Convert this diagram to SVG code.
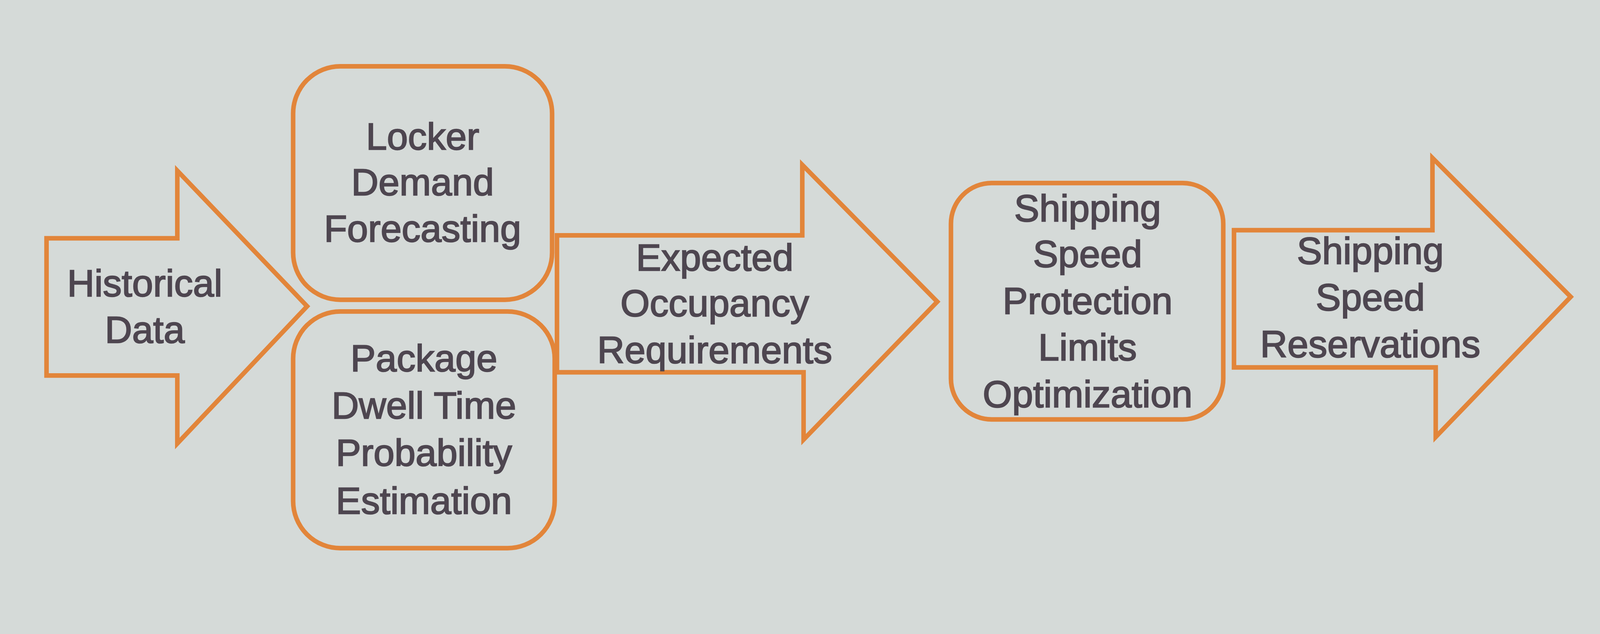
<svg xmlns="http://www.w3.org/2000/svg" width="4918" height="1624" viewBox="0 0 4918 1624" preserveAspectRatio="xMidYMid meet">
  <style>
    svg:root { width: 100vw; height: 100vh; display: block; background: #d5dad8; }
    .shape { fill: none; stroke: #e2853a; stroke-width: 14; stroke-linejoin: miter; }
    .label { font-family: "Liberation Sans", Arial, sans-serif; font-size: 116px; fill: #4e4650; stroke: #4e4650; stroke-width: 3; text-anchor: middle; }
  </style>
  <rect x="-2000" y="-2000" width="8918" height="5624" fill="#d5dad8"/>

  <g id="connectors"></g>

  <g id="historical-data">
    <polygon class="shape" points="143,570 545,570 545,362 944,779 545,1201 545,992 143,992"/>
    <text class="label" x="445" y="748">Historical</text>
    <text class="label" x="445" y="891">Data</text>
  </g>

  <g id="locker-demand-forecasting">
    <rect class="shape" x="901" y="41" width="796" height="718" rx="145" ry="145"/>
    <text class="label" x="1299" y="297">Locker</text>
    <text class="label" x="1299" y="438">Demand</text>
    <text class="label" x="1299" y="580">Forecasting</text>
  </g>

  <g id="package-dwell-time">
    <rect class="shape" x="901" y="795" width="804" height="728" rx="145" ry="145"/>
    <text class="label" x="1303" y="979">Package</text>
    <text class="label" x="1303" y="1124">Dwell Time</text>
    <text class="label" x="1303" y="1269">Probability</text>
    <text class="label" x="1303" y="1417">Estimation</text>
  </g>

  <g id="expected-occupancy">
    <polygon class="shape" points="1712,561 2466,561 2466,344 2881,765 2470,1189 2470,982 1712,982"/>
    <text class="label" x="2197" y="669">Expected</text>
    <text class="label" x="2197" y="810">Occupancy</text>
    <text class="label" x="2197" y="954">Requirements</text>
  </g>

  <g id="protection-limits-optimization">
    <rect class="shape" x="2923" y="400" width="837" height="727" rx="125" ry="125"/>
    <text class="label" x="3343" y="518">Shipping</text>
    <text class="label" x="3343" y="658">Speed</text>
    <text class="label" x="3343" y="802">Protection</text>
    <text class="label" x="3343" y="945">Limits</text>
    <text class="label" x="3343" y="1089">Optimization</text>
  </g>

  <g id="shipping-speed-reservations">
    <polygon class="shape" points="3793,545 4403,545 4403,323 4828,750 4413,1181 4413,967 3793,967"/>
    <text class="label" x="4212" y="649">Shipping</text>
    <text class="label" x="4212" y="792">Speed</text>
    <text class="label" x="4212" y="936">Reservations</text>
  </g>
</svg>
